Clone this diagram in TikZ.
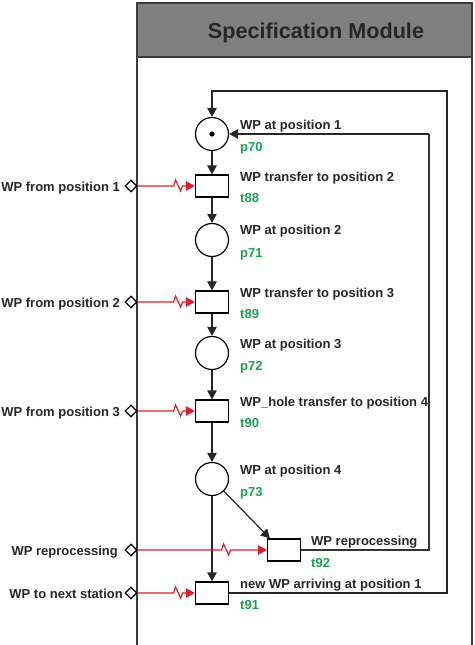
\documentclass[tikz,border=0pt]{standalone}
\usepackage{fontspec}
\setmainfont{Liberation Sans}
\usetikzlibrary{arrows.meta,shapes.geometric}
\definecolor{hdrgray}{RGB}{128,128,128}
\definecolor{idgreen}{RGB}{20,165,75}
\definecolor{sigred}{RGB}{225,30,40}
\definecolor{boxgray}{RGB}{60,60,60}

\begin{document}
\begin{tikzpicture}[x=1pt,y=-1pt,
    place/.style={circle,draw=black,line width=1.2pt,minimum size=33pt,inner sep=0pt},
    trans/.style={rectangle,draw=black,line width=1.2pt,minimum width=33pt,minimum height=22pt,inner sep=0pt},
    port/.style={diamond,draw=black,fill=white,line width=1.2pt,minimum size=12pt,inner sep=0pt},
    txt/.style={font=\fontsize{13}{15}\selectfont\bfseries,text=black!85,inner sep=0pt,anchor=base west},
    ident/.style={txt,text=idgreen},
    side/.style={txt,anchor=base east},
    arc/.style={black!85,line width=1.2pt,-{Triangle[length=9pt,width=9.5pt]}},
    fb/.style={black!80,line width=1.2pt},
    sig/.style={sigred,line width=1.2pt,-{Triangle[length=9pt,width=9.5pt]}}]
    \useasboundingbox (0,0) rectangle (474,645);
    % module frame
    \fill[hdrgray] (137,3) rectangle (472,57);
    \draw[boxgray,line width=1.4pt] (137,650) -- (137,3) -- (472,3) -- (472,650);
    \draw[boxgray,line width=1.4pt] (137,57) -- (472,57);
    \node[font=\fontsize{21.6}{24}\selectfont\bfseries,text=black!85,anchor=base,inner sep=0pt] (title) at (316,38) {Specification Module};
    % places and transitions
    \node[place] (p70) at (212,134) {};
    \fill (p70) circle (2.6);
    \node[trans] (t88) at (212,186) {};
    \node[place] (p71) at (212,240) {};
    \node[trans] (t89) at (212,302) {};
    \node[place] (p72) at (212,353) {};
    \node[trans] (t90) at (212,411) {};
    \node[place] (p73) at (212,479) {};
    \node[trans] (t92) at (284,550) {};
    \node[trans] (t91) at (212,593) {};
    % labels
    \node[txt] (p70n) at (240,129.5) {WP at position 1};
    \node[ident] (p70i) at (240,151) {p70};
    \node[txt] (t88n) at (240,181) {WP transfer to position 2};
    \node[ident] (t88i) at (240,202) {t88};
    \node[txt] (p71n) at (240,234.5) {WP at position 2};
    \node[ident] (p71i) at (240,257) {p71};
    \node[txt] (t89n) at (240,297) {WP transfer to position 3};
    \node[ident] (t89i) at (240,318) {t89};
    \node[txt] (p72n) at (240,348) {WP at position 3};
    \node[ident] (p72i) at (240,370) {p72};
    \node[txt] (t90n) at (240,406) {WP\_hole transfer to position 4};
    \node[ident] (t90i) at (240,427) {t90};
    \node[txt] (p73n) at (240,474) {WP at position 4};
    \node[ident] (p73i) at (240,496) {p73};
    \node[txt] (t92n) at (311,545) {WP reprocessing};
    \node[ident] (t92i) at (311,567) {t92};
    \node[txt] (t91n) at (240,588) {new WP arriving at position 1};
    \node[ident] (t91i) at (240,609) {t91};
    % feedback lines
    \coordinate (back1) at (429,134);
    \coordinate (back2) at (447,91);
    \draw[fb] (t92.east) -| (back1);
    \draw[arc] (back1) -- (p70.east);
    \draw[arc] (t91.east) -| (back2) -| (p70.north);
    % arcs
    \draw[arc] (p70) -- (t88);
    \draw[arc] (t88) -- (p71);
    \draw[arc] (p71) -- (t89);
    \draw[arc] (t89) -- (p72);
    \draw[arc] (p72) -- (t90);
    \draw[arc] (t90) -- (p73);
    \draw[arc] (p73) -- (t91);
    \draw[arc] (p73) -- ([xshift=3pt]t92.north west);
    % input ports
    \node[port] (i88) at (131,186) {};
    \node[port] (i89) at (131,302) {};
    \node[port] (i90) at (131,411) {};
    \node[port] (i92) at (131,550) {};
    \node[port] (i91) at (131,593) {};
    \node[side] (i88n) at (120,191) {WP from position 1};
    \node[side] (i89n) at (120,307) {WP from position 2};
    \node[side] (i90n) at (120,416) {WP from position 3};
    \node[side] (i92n) at (118,555) {WP reprocessing};
    \node[side] (i91n) at (123,598) {WP to next station};
    \draw[sig] (i88.east) -- ++(36,0) -- ++(2,-6) -- ++(5,11) -- ++(2,-5) -- (t88.west);
    \draw[sig] (i89.east) -- ++(36,0) -- ++(2,-6) -- ++(5,11) -- ++(2,-5) -- (t89.west);
    \draw[sig] (i90.east) -- ++(36,0) -- ++(2,-6) -- ++(5,11) -- ++(2,-5) -- (t90.west);
    \draw[sig] (i92.east) -- ++(84,0) -- ++(2,-6) -- ++(5,11) -- ++(2,-5) -- (t92.west);
    \draw[sig] (i91.east) -- ++(36,0) -- ++(2,-6) -- ++(5,11) -- ++(2,-5) -- (t91.west);
\end{tikzpicture}
\end{document}
